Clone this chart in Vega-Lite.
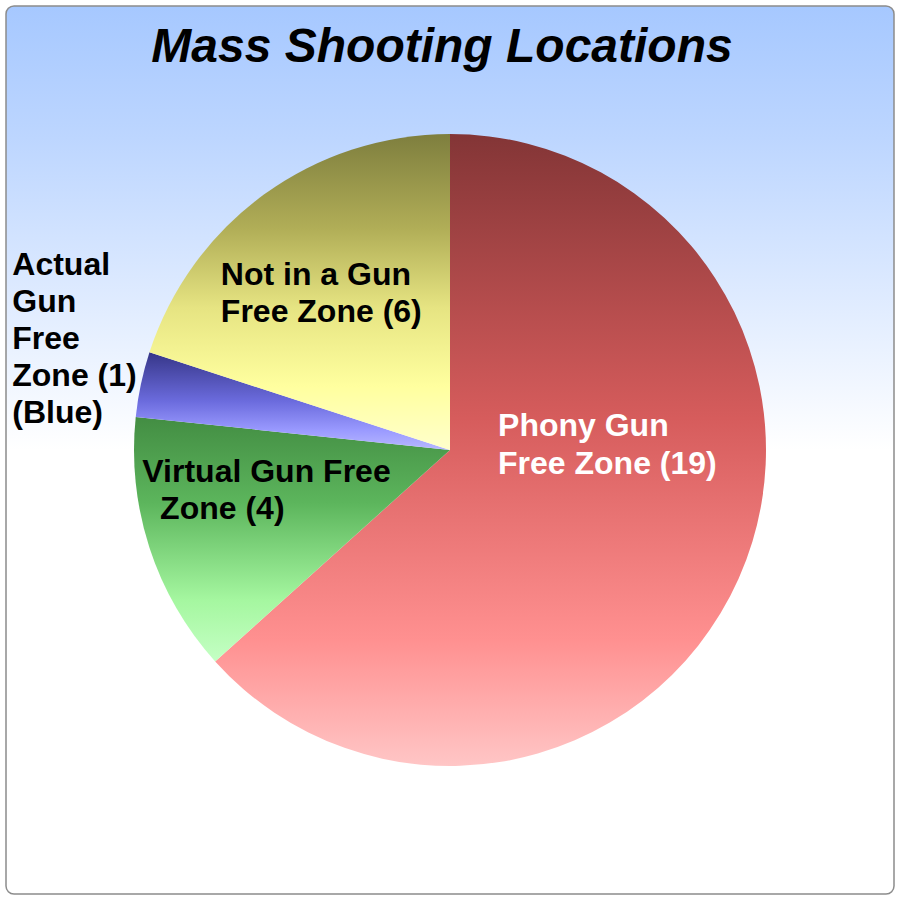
{
  "$schema": "https://vega.github.io/schema/vega-lite/v6.json",
  "width": 888,
  "height": 888,
  "padding": {"left": 6, "top": 6, "right": 6, "bottom": 6},
  "autosize": {"type": "none"},
  "background": "white",
  "view": {
    "fill": {"gradient": "linear", "x1": 0, "y1": 0, "x2": 0, "y2": 1, "stops": [
      {"offset": 0, "color": "#A6C8FF"},
      {"offset": 0.15, "color": "#BDD6FF"},
      {"offset": 0.5, "color": "#FFFFFF"},
      {"offset": 1, "color": "#FFFFFF"}
    ]},
    "stroke": "#8C8C8C",
    "strokeWidth": 1.5,
    "cornerRadius": 8
  },
  "title": {
    "text": "Mass Shooting Locations",
    "font": "Liberation Sans",
    "fontSize": 48,
    "fontWeight": "bold",
    "fontStyle": "italic",
    "color": "black",
    "anchor": "middle",
    "baseline": "alphabetic",
    "offset": 0,
    "dy": 104,
    "dx": -8
  },
  "data": {
    "values": [
      {"seq": 1, "zone": "Phony Gun Free Zone", "count": 19, "label": "Phony Gun\nFree Zone (19)"},
      {"seq": 2, "zone": "Virtual Gun Free Zone", "count": 4, "label": "Virtual Gun Free\n\u200b\u00a0\u00a0Zone (4)"},
      {"seq": 3, "zone": "Actual Gun Free Zone", "count": 1, "label": "Actual\nGun\nFree\nZone (1)\n(Blue)"},
      {"seq": 4, "zone": "Not in a Gun Free Zone", "count": 6, "label": "Not in a Gun\nFree Zone (6)"}
    ]
  },
  "layer": [
    {
      "mark": {"type": "arc", "outerRadius": 316, "strokeWidth": 0},
      "encoding": {
        "theta": {"field": "count", "type": "quantitative", "stack": true},
        "order": {"field": "seq", "type": "quantitative"},
        "fill": {
          "condition": [
            {
              "test": "datum.zone === 'Phony Gun Free Zone'",
              "value": {"gradient": "linear", "x1": 0, "y1": 0, "x2": 0, "y2": 1, "stops": [
                {"offset": 0, "color": "#833536"},
                {"offset": 0.45, "color": "#D65C5C"},
                {"offset": 0.8, "color": "#FF9090"},
                {"offset": 1, "color": "#FFC6C6"}
              ]}
            },
            {
              "test": "datum.zone === 'Virtual Gun Free Zone'",
              "value": {"gradient": "linear", "x1": 0, "y1": 0, "x2": 0, "y2": 1, "stops": [
                {"offset": 0, "color": "#438D43"},
                {"offset": 0.35, "color": "#5CB55C"},
                {"offset": 0.75, "color": "#A5F7A0"},
                {"offset": 1, "color": "#C4FFC4"}
              ]}
            },
            {
              "test": "datum.zone === 'Actual Gun Free Zone'",
              "value": {"gradient": "linear", "x1": 0, "y1": 0, "x2": 0, "y2": 1, "stops": [
                {"offset": 0, "color": "#363688"},
                {"offset": 0.5, "color": "#6B6BDD"},
                {"offset": 0.8, "color": "#9A9AFF"},
                {"offset": 1, "color": "#B8B8FF"}
              ]}
            }
          ],
          "value": {"gradient": "linear", "x1": 0, "y1": 0, "x2": 0, "y2": 1, "stops": [
            {"offset": 0, "color": "#7E7E3E"},
            {"offset": 0.3, "color": "#B1AE57"},
            {"offset": 0.55, "color": "#E6E482"},
            {"offset": 0.8, "color": "#FFFF9F"},
            {"offset": 1, "color": "#FFFFCC"}
          ]}
        }
      }
    },
    {
      "mark": {"type": "text", "radius": 150, "dx": -89, "dy": -75, "align": "left", "baseline": "alphabetic", "font": "Liberation Sans", "fontSize": 32, "fontWeight": "bold", "lineBreak": "\n", "lineHeight": 38, "fill": "white"},
      "encoding": {
        "theta": {"field": "count", "type": "quantitative", "stack": true},
        "order": {"field": "seq", "type": "quantitative"},
        "text": {"condition": {"test": "datum.zone === 'Phony Gun Free Zone'", "field": "label"}, "value": ""}
      }
    },
    {
      "mark": {"type": "text", "radius": 150, "dx": -165, "dy": -14, "align": "left", "baseline": "alphabetic", "font": "Liberation Sans", "fontSize": 32, "fontWeight": "bold", "lineBreak": "\n", "lineHeight": 37, "fill": "black"},
      "encoding": {
        "theta": {"field": "count", "type": "quantitative", "stack": true},
        "order": {"field": "seq", "type": "quantitative"},
        "text": {"condition": {"test": "datum.zone === 'Virtual Gun Free Zone'", "field": "label"}, "value": ""}
      }
    },
    {
      "mark": {"type": "text", "radius": 150, "dx": -291, "dy": -144, "align": "left", "baseline": "alphabetic", "font": "Liberation Sans", "fontSize": 32, "fontWeight": "bold", "lineBreak": "\n", "lineHeight": 37, "fill": "black"},
      "encoding": {
        "theta": {"field": "count", "type": "quantitative", "stack": true},
        "order": {"field": "seq", "type": "quantitative"},
        "text": {"condition": {"test": "datum.zone === 'Actual Gun Free Zone'", "field": "label"}, "value": ""}
      }
    },
    {
      "mark": {"type": "text", "radius": 150, "dx": -141, "dy": -44, "align": "left", "baseline": "alphabetic", "font": "Liberation Sans", "fontSize": 32, "fontWeight": "bold", "lineBreak": "\n", "lineHeight": 37, "fill": "black"},
      "encoding": {
        "theta": {"field": "count", "type": "quantitative", "stack": true},
        "order": {"field": "seq", "type": "quantitative"},
        "text": {"condition": {"test": "datum.zone === 'Not in a Gun Free Zone'", "field": "label"}, "value": ""}
      }
    }
  ]
}
